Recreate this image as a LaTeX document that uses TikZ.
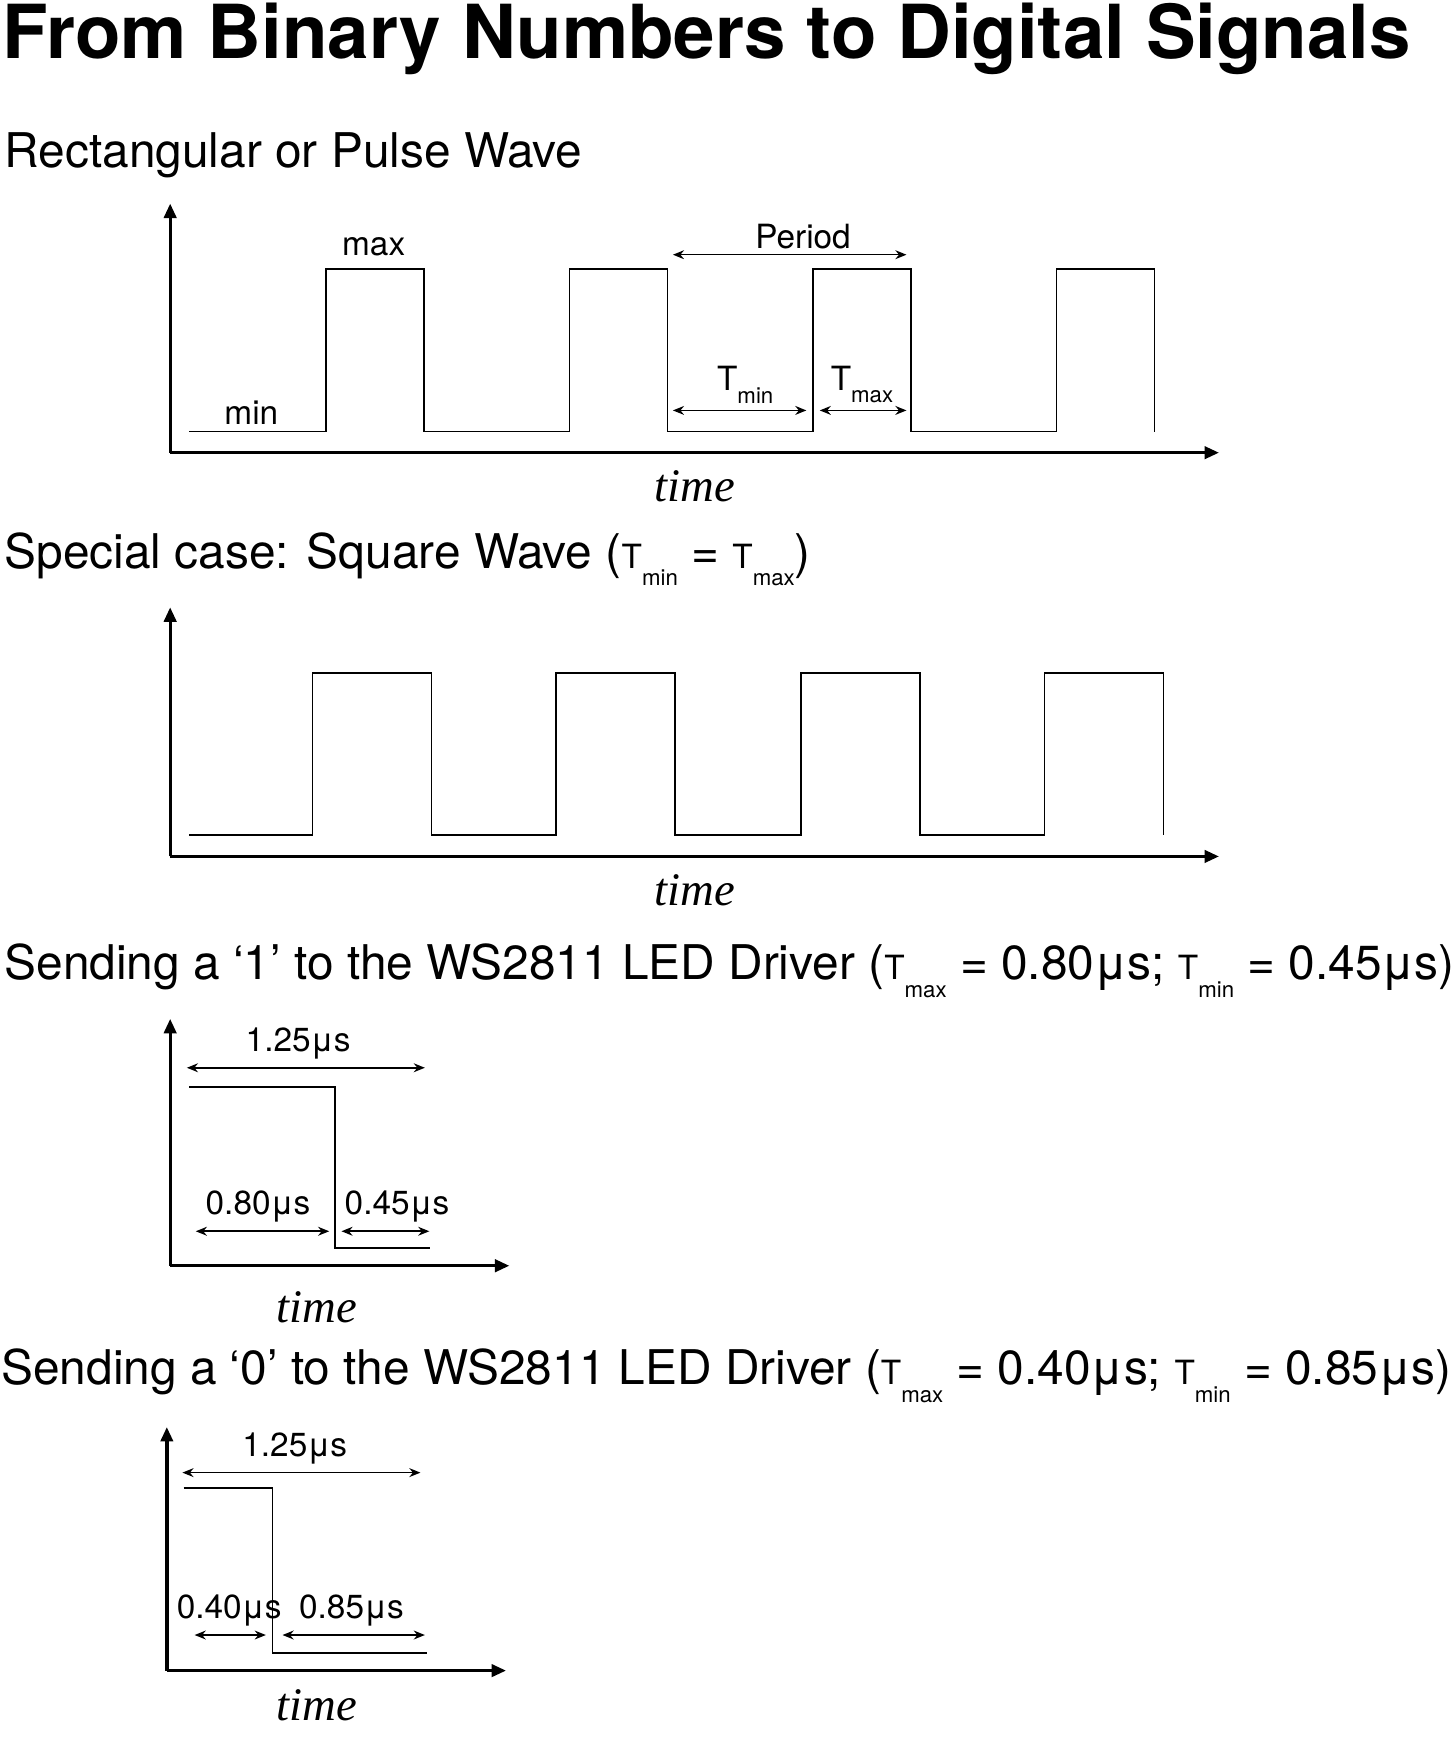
\documentclass[tikz,border=0pt]{standalone}
\usepackage{fontspec}
\setmainfont{TeX Gyre Heros}
\newfontfamily\timesf{Liberation Serif}
\usetikzlibrary{arrows.meta}
\newcommand{\sbx}[1]{\raisebox{-0.7ex}{\fontsize{20}{20}\selectfont #1}}
\newcommand{\hT}{{\fontsize{30}{30}\selectfont T}}
\tikzset{
  axis/.style={line width=3pt,-{Triangle[length=13pt,width=11pt]}},
  wave/.style={line width=1.5pt},
  dim/.style={line width=1.4pt,{Stealth[length=10pt,width=8pt]}-{Stealth[length=10pt,width=8pt]}},
  head/.style={anchor=west,inner sep=0,font=\fontsize{43}{43}\selectfont},
  lab/.style={inner sep=0,font=\fontsize{30}{30}\selectfont},
  tlab/.style={inner sep=0,font=\timesf\itshape\fontsize{42}{42}\selectfont},
}
\begin{document}
\begin{tikzpicture}[x=1pt,y=-1pt]
\useasboundingbox (0,0) rectangle (1305,1568);
\node[anchor=west,inner sep=0,font=\bfseries\fontsize{67}{67}\selectfont] (title) at (2,35) {From Binary Numbers to Digital Signals};
% panel 1
\node[head] (h1) at (4,140) {Rectangular or Pulse Wave};
\coordinate (o1) at (153,407);
\coordinate (y1) at (153,183);
\coordinate (x1) at (1096,407);
\draw[axis] (o1) -- (y1);
\draw[axis] (o1) -- (x1);
\draw[wave] (170,388) -- (293,388) -- (293,242) -- (381,242) -- (381,388) -- (512,388) -- (512,242) -- (600,242) -- (600,388) -- (731,388) -- (731,242) -- (819,242) -- (819,388) -- (950,388) -- (950,242) -- (1038,242) -- (1038,388);
\coordinate (pa) at (605,229); \coordinate (pb) at (815,229);
\draw[dim] (pa) -- (pb);
\node[lab] (per) at (722,213) {Period};
\coordinate (ta) at (605,369); \coordinate (tb) at (725,369);
\draw[dim] (ta) -- (tb);
\coordinate (tc) at (737,369); \coordinate (td) at (815,369);
\draw[dim] (tc) -- (td);
\node[lab] (tmin) at (670,346) {T\sbx{min}};
\node[lab] (tmax) at (775,346) {T\sbx{max}};
\node[lab] (mx) at (336,222) {max};
\node[lab] (mn) at (226,371) {min};
\node[tlab] (t1) at (625,437) {time};
% panel 2
\node[head] (h2) at (4,503) {Special case: Square Wave (\hT\sbx{min} = \hT\sbx{max})};
\coordinate (o2) at (153,770);
\coordinate (y2) at (153,546);
\coordinate (x2) at (1096,770);
\draw[axis] (o2) -- (y2);
\draw[axis] (o2) -- (x2);
\draw[wave] (170,751) -- (281,751) -- (281,605) -- (388,605) -- (388,751) -- (500,751) -- (500,605) -- (607,605) -- (607,751) -- (720,751) -- (720,605) -- (827,605) -- (827,751) -- (939,751) -- (939,605) -- (1046,605) -- (1046,751);
\node[tlab] (t2) at (625,800) {time};
% panel 3
\node[head] (h3) at (4,873) {Sending a ‘1’ to the WS2811 LED Driver (\hT\sbx{max} = 0.80μs; \hT\sbx{min} = 0.45μs)};
\coordinate (o3) at (153,1138);
\coordinate (y3) at (153,916);
\coordinate (x3) at (458,1138);
\draw[axis] (o3) -- (y3);
\draw[axis] (o3) -- (x3);
\draw[wave] (170,977) -- (301,977) -- (301,1122) -- (387,1122);
\coordinate (a31) at (168,960); \coordinate (a32) at (382,960);
\draw[dim] (a31) -- (a32);
\node[lab] (l31) at (268,938) {1.25μs};
\coordinate (a33) at (176,1107); \coordinate (a34) at (296,1107);
\draw[dim] (a33) -- (a34);
\node[lab] (l32) at (232,1085) {0.80μs};
\coordinate (a35) at (307,1107); \coordinate (a36) at (386,1107);
\draw[dim] (a35) -- (a36);
\node[lab] (l33) at (357,1085) {0.45μs};
\node[tlab] (t3) at (285,1175) {time};
% panel 4
\node[head] (h4) at (1,1237) {Sending a ‘0’ to the WS2811 LED Driver (\hT\sbx{max} = 0.40μs; \hT\sbx{min} = 0.85μs)};
\coordinate (o4) at (150,1502);
\coordinate (y4) at (150,1283);
\coordinate (x4) at (455,1502);
\draw[axis] (o4) -- (y4);
\draw[axis] (o4) -- (x4);
\draw[wave] (165,1338) -- (245,1338) -- (245,1486) -- (384,1486);
\coordinate (a41) at (164,1324); \coordinate (a42) at (378,1324);
\draw[dim] (a41) -- (a42);
\node[lab] (l41) at (265,1302) {1.25μs};
\coordinate (a43) at (175,1470); \coordinate (a44) at (239,1470);
\draw[dim] (a43) -- (a44);
\node[lab] (l42) at (206,1448) {0.40μs};
\coordinate (a45) at (254,1470); \coordinate (a46) at (382,1470);
\draw[dim] (a45) -- (a46);
\node[lab] (l43) at (316,1448) {0.85μs};
\node[tlab] (t4) at (285,1533) {time};
\end{tikzpicture}
\end{document}
